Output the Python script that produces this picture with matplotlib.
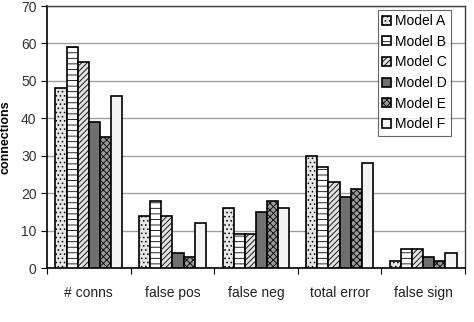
import matplotlib.pyplot as plt
import numpy as np

categories = ['# conns', 'false pos', 'false neg', 'total error', 'false sign']
models = ['Model A', 'Model B', 'Model C', 'Model D', 'Model E', 'Model F']
model_a = [48, 14, 16, 30, 2]
model_b = [59, 18, 9, 27, 5]
model_c = [55, 14, 9, 23, 5]
model_d = [39, 4, 15, 19, 3]
model_e = [35, 3, 18, 21, 2]
model_f = [46, 12, 16, 28, 4]
series = [model_a, model_b, model_c, model_d, model_e, model_f]

faces = ['#e6e6e6', 'white', '#e0e0e0', '#707070', '#9a9a9a', '#f4f4f4']
hatches = ['....', '---', '//////', '', 'xxxxx', '']

plt.rcParams['font.family'] = ['Liberation Sans', 'DejaVu Sans']
plt.rcParams['hatch.linewidth'] = 0.6

fig = plt.figure(figsize=(4.74, 3.22), dpi=100)
ax = fig.add_axes([47 / 474, 1 - 268 / 322, 418 / 474, 262 / 322])

x = np.arange(len(categories))
w = 0.133
for i, vals in enumerate(series):
    ax.bar(x + (i - 2.5) * w, vals, w, color=faces[i], edgecolor='black',
           linewidth=1.2, hatch=hatches[i], label=models[i], zorder=3)

ax.set_xlim(-0.5, len(categories) - 0.5)
ax.set_ylim(0, 70)
ax.set_yticks(range(0, 71, 10))
ax.yaxis.grid(True, color='#a0a0a0', linewidth=1.0, zorder=0)
ax.set_axisbelow(True)

ax.set_xticks(np.arange(-0.5, len(categories)), minor=False)
ax.set_xticklabels([])
ax.set_xticks(x, minor=True)
ax.set_xticklabels(categories, minor=True, fontsize=10, color='#222222')
ax.tick_params(axis='x', which='minor', length=0, pad=13)
ax.tick_params(axis='x', which='major', length=4, direction='out')
ax.tick_params(axis='y', labelsize=10, length=4, direction='out', labelcolor='#333333')

ax.set_ylabel('connections', fontweight='bold', fontsize=9, labelpad=7)

for s in ['left', 'bottom']:
    ax.spines[s].set_linewidth(1.2)
for s in ['top', 'right']:
    ax.spines[s].set_color('#404040')
    ax.spines[s].set_linewidth(1.0)

leg = ax.legend(loc='upper right', bbox_to_anchor=(0.966, 0.985), fontsize=10,
                frameon=True, fancybox=False, edgecolor='#404040',
                handlelength=0.6, handleheight=0.6, handletextpad=0.3,
                labelspacing=0.48, borderpad=0.3, borderaxespad=0)
leg.get_frame().set_linewidth(0.8)
leg.set_zorder(5)

fig.savefig('out.png', dpi=100)
